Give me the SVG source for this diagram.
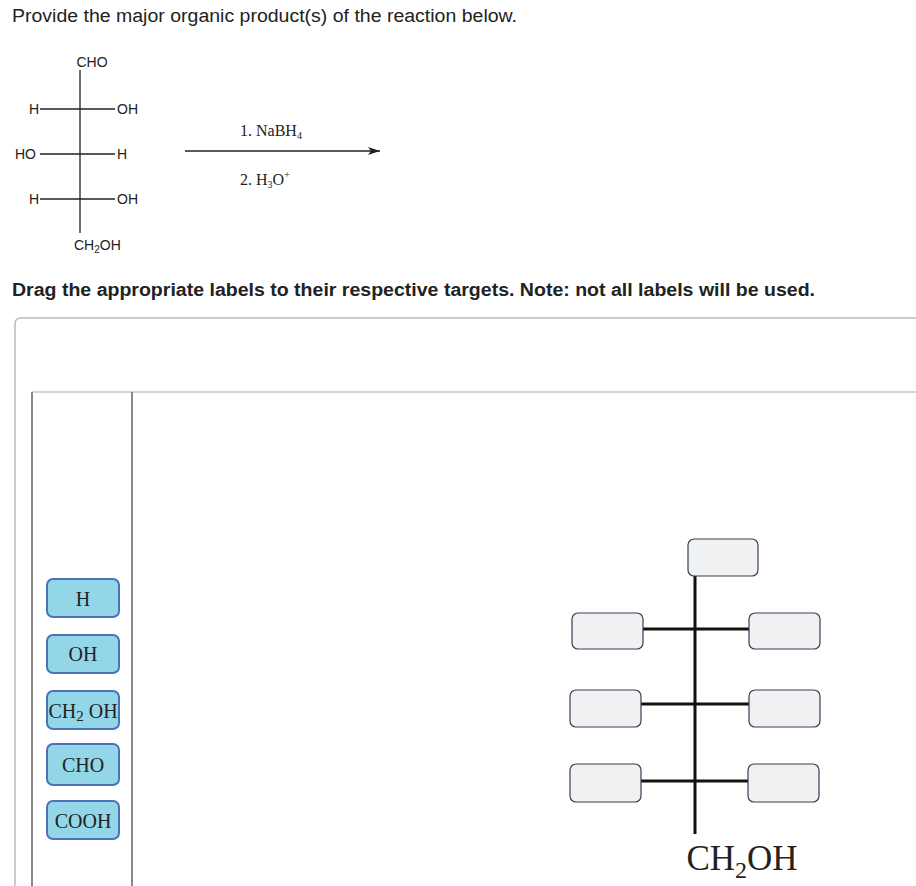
<svg xmlns="http://www.w3.org/2000/svg" width="916" height="886" viewBox="0 0 916 886">
<style>
.sans{font-family:"Liberation Sans",Arial,sans-serif;fill:#222}
.ser{font-family:"Liberation Serif","Times New Roman",serif;fill:#222}
.bond{stroke:#222;stroke-width:1.3}
.pb{stroke:#111;stroke-width:3}
.lab rect{fill:#93d6e8;stroke:#4a72b8;stroke-width:2}
.tgt rect{fill:#f0f1f3;stroke:#3a3d52;stroke-width:1.2}
</style>
<defs><marker id="ah" markerWidth="12" markerHeight="8" refX="12" refY="4" orient="auto" markerUnits="userSpaceOnUse"><path d="M0,0 L12,4 L0,8 L3,4 z" fill="#222"/></marker></defs>
<rect width="916" height="886" fill="#fff"/>
<text class="sans" x="12" y="22" font-size="18" textLength="505" lengthAdjust="spacingAndGlyphs">Provide the major organic product(s) of the reaction below.</text>
<g id="reactant">
<line class="bond" x1="80" y1="70" x2="80" y2="233"/>
<line class="bond" x1="40" y1="109" x2="115" y2="109"/>
<line class="bond" x1="40" y1="154" x2="115" y2="154"/>
<line class="bond" x1="40" y1="199" x2="115" y2="199"/>
<text class="sans" x="92" y="67" font-size="14" text-anchor="middle">CHO</text>
<text class="sans" x="29" y="114" font-size="14">H</text>
<text class="sans" x="117" y="114" font-size="14">OH</text>
<text class="sans" x="15" y="159" font-size="14">HO</text>
<text class="sans" x="117" y="159" font-size="14">H</text>
<text class="sans" x="29" y="204" font-size="14">H</text>
<text class="sans" x="117" y="204" font-size="14">OH</text>
<text class="sans" x="74" y="250" font-size="14">CH<tspan font-size="10" dy="3">2</tspan><tspan dy="-3">OH</tspan></text>
</g>
<g id="connectors">
<line x1="185" y1="151" x2="380" y2="151" stroke="#222" stroke-width="1.3" marker-end="url(#ah)"/>
</g>
<text class="ser" x="240" y="136" font-size="16">1.  NaBH<tspan font-size="10" dy="3">4</tspan></text>
<text class="ser" x="240" y="185" font-size="16">2.  H<tspan font-size="10" dy="3">3</tspan><tspan dy="-3">O</tspan><tspan font-size="10" dy="-7">+</tspan></text>
<text class="sans" x="12" y="296" font-size="18" font-weight="bold" textLength="803" lengthAdjust="spacingAndGlyphs">Drag the appropriate labels to their respective targets. Note: not all labels will be used.</text>
<path d="M916,318 H21 Q15,318 15,324 V886" fill="none" stroke="#bbb" stroke-width="1.5"/>
<line x1="32" y1="392" x2="916" y2="392" stroke="#aaa" stroke-width="1"/>
<line x1="32" y1="392" x2="32" y2="886" stroke="#888" stroke-width="2"/>
<line x1="132" y1="392" x2="132" y2="886" stroke="#888" stroke-width="2"/>
<g id="label-H" class="lab"><rect x="47" y="579" width="72" height="38" rx="6"/><text class="ser" x="83" y="606" font-size="20" text-anchor="middle">H</text></g>
<g id="label-OH" class="lab"><rect x="47" y="635" width="72" height="38" rx="6"/><text class="ser" x="83" y="661" font-size="20" text-anchor="middle">OH</text></g>
<g id="label-CH2OH" class="lab"><rect x="47" y="691" width="72" height="38" rx="6"/><text class="ser" x="83" y="718" font-size="20" text-anchor="middle">CH<tspan font-size="15" dy="3">2</tspan><tspan dy="-3"> OH</tspan></text></g>
<g id="label-CHO" class="lab"><rect x="47" y="744" width="72" height="41" rx="6"/><text class="ser" x="83" y="772" font-size="20" text-anchor="middle">CHO</text></g>
<g id="label-COOH" class="lab"><rect x="47" y="801" width="72" height="38" rx="6"/><text class="ser" x="83" y="828" font-size="20" text-anchor="middle">COOH</text></g>
<g id="product">
<line class="pb" x1="695" y1="576" x2="695" y2="834"/>
<line class="pb" x1="643" y1="629" x2="749" y2="629"/>
<line class="pb" x1="641" y1="704" x2="749" y2="704"/>
<line class="pb" x1="641" y1="781" x2="749" y2="781"/>
<text class="ser" x="742" y="870" font-size="35" text-anchor="middle">CH<tspan font-size="24" dy="8">2</tspan><tspan dy="-8">OH</tspan></text>
</g>
<g id="target-top" class="tgt"><rect x="688" y="539" width="70" height="37" rx="6"/></g>
<g id="target-1L" class="tgt"><rect x="572" y="613" width="71" height="36" rx="6"/></g>
<g id="target-1R" class="tgt"><rect x="749" y="613" width="71" height="36" rx="6"/></g>
<g id="target-2L" class="tgt"><rect x="570" y="690" width="71" height="37" rx="6"/></g>
<g id="target-2R" class="tgt"><rect x="749" y="690" width="71" height="37" rx="6"/></g>
<g id="target-3L" class="tgt"><rect x="570" y="764" width="71" height="38" rx="6"/></g>
<g id="target-3R" class="tgt"><rect x="748" y="764" width="71" height="38" rx="6"/></g>
</svg>
